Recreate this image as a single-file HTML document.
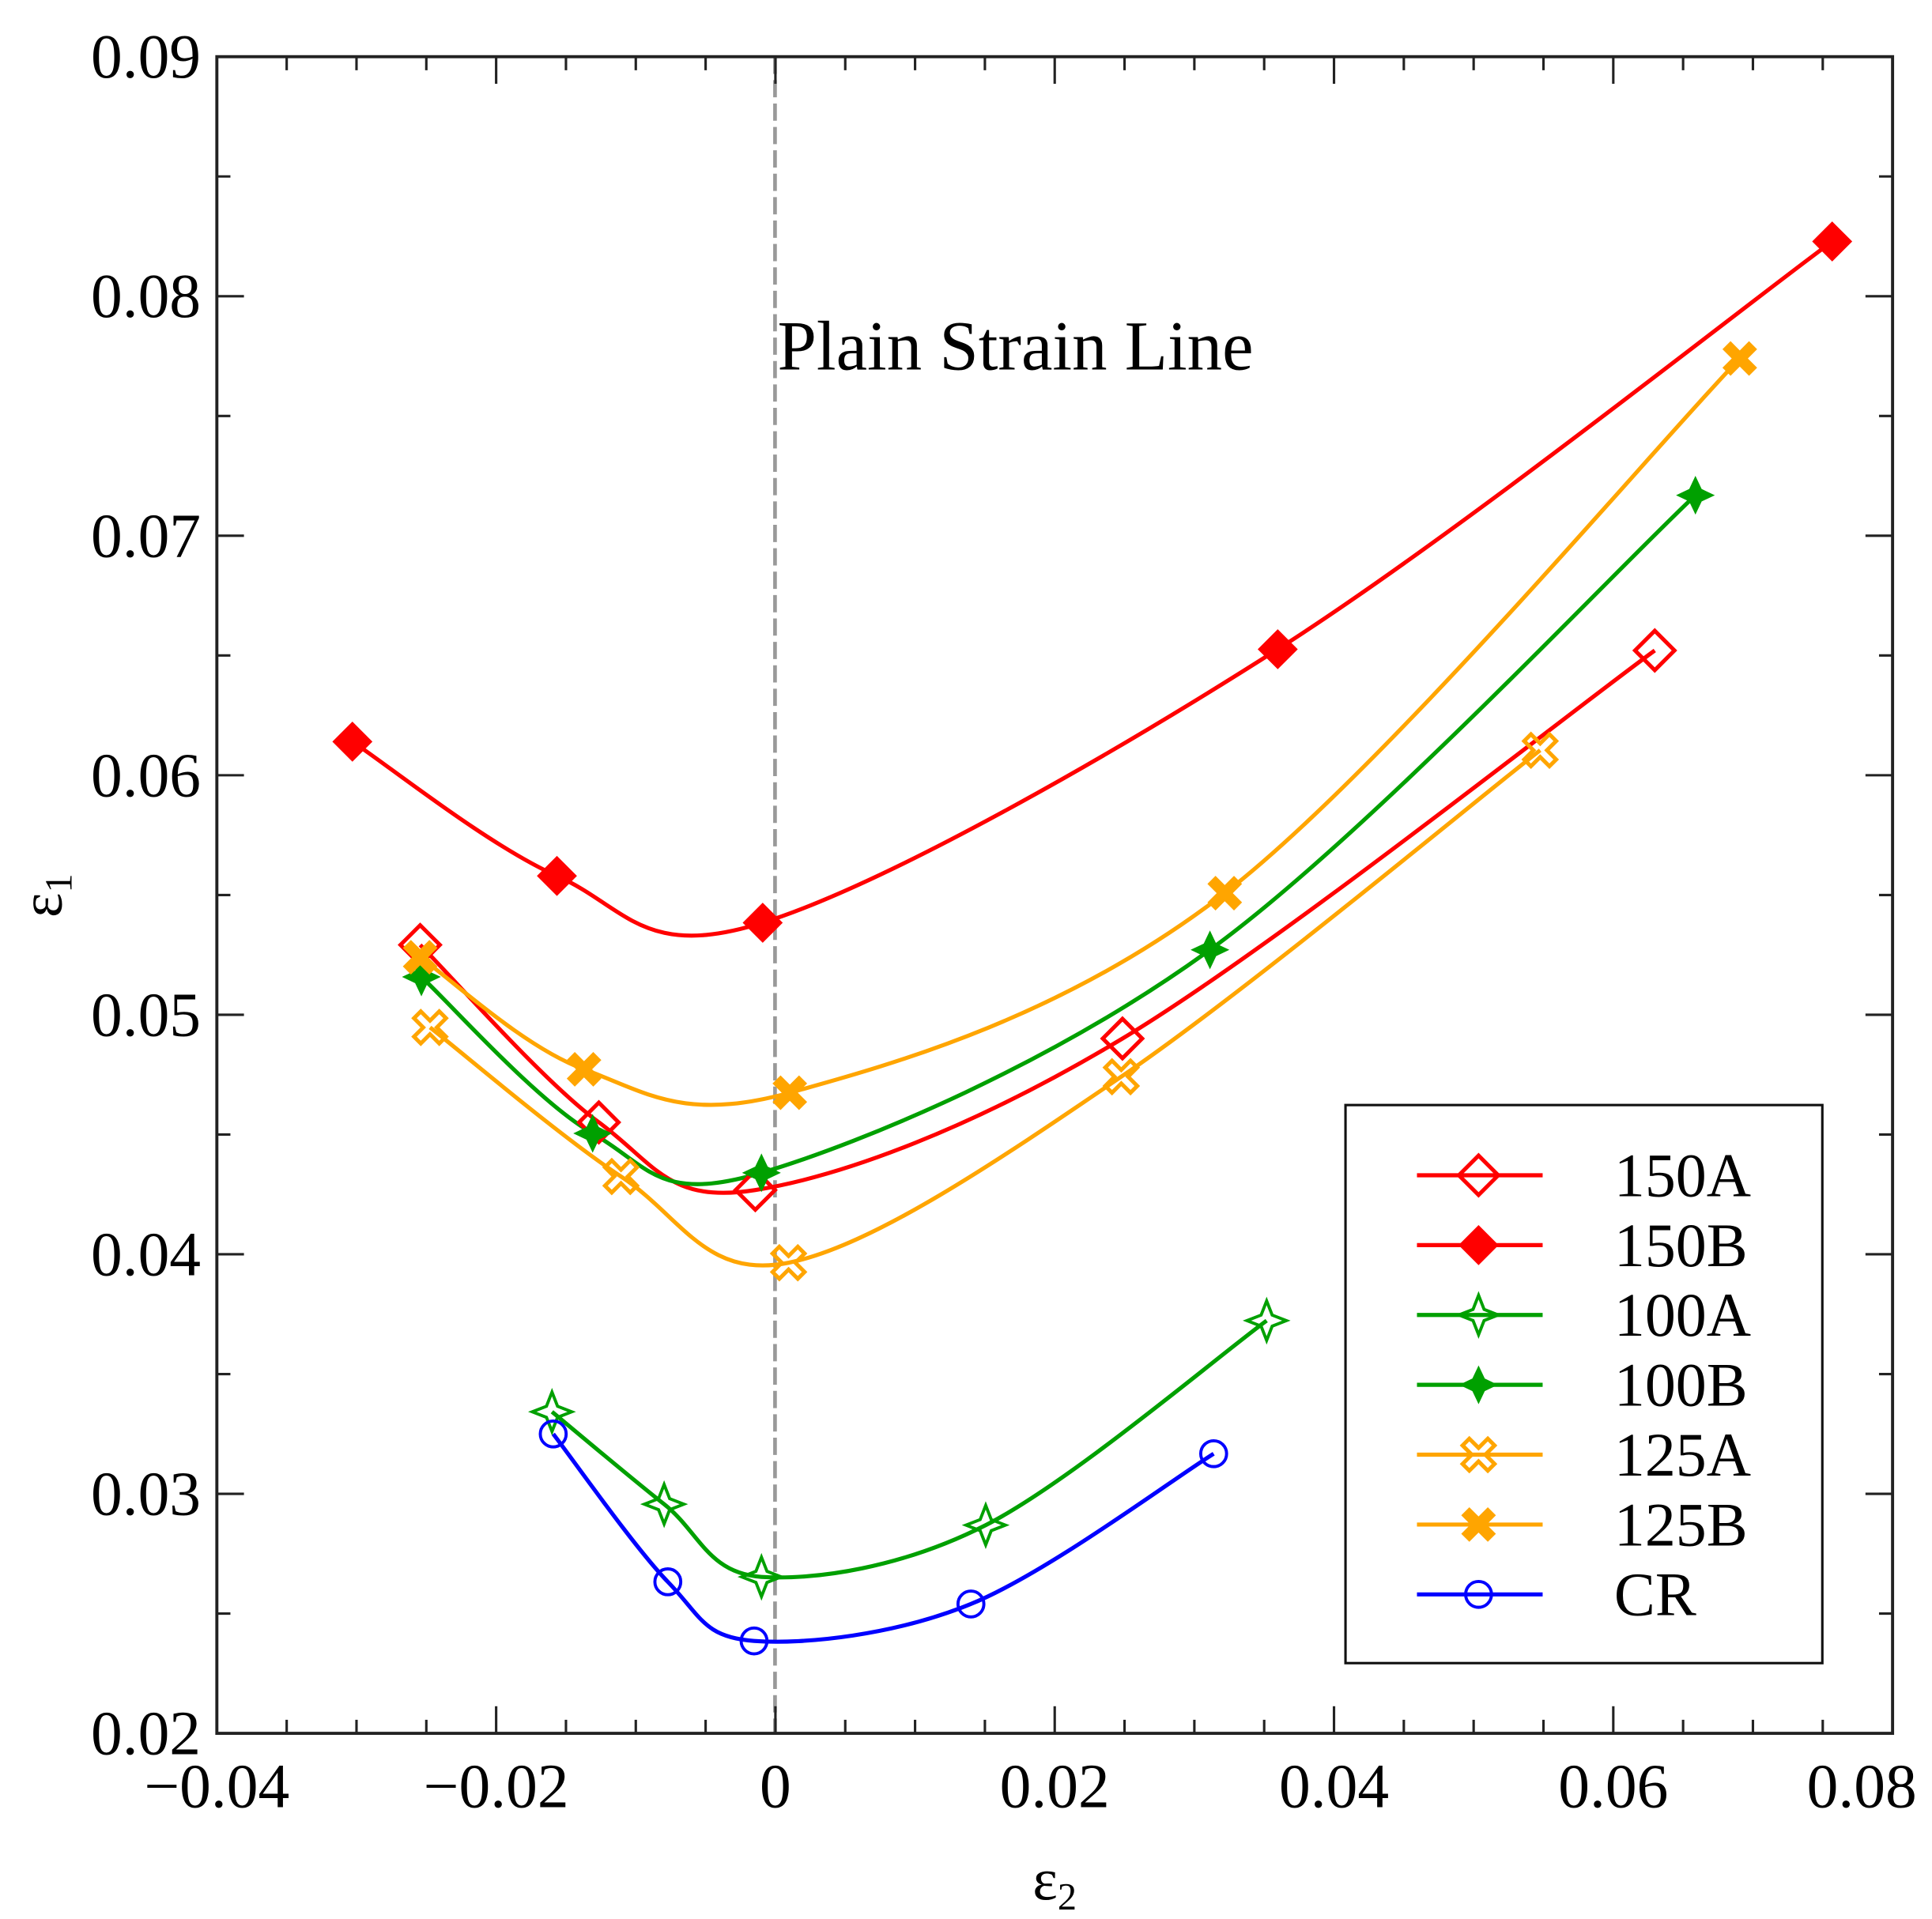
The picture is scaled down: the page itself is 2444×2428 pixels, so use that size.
<!DOCTYPE html>
<html><head><meta charset="utf-8"><style>
html,body{margin:0;padding:0;background:#fff;}
svg{display:block;}
text{font-family:"Liberation Serif",serif;fill:#000;}
</style></head><body>
<svg id="s" width="2444" height="2428" viewBox="0 0 1568 1557.7" xmlns="http://www.w3.org/2000/svg">
<rect x="0" y="0" width="1568" height="1558" fill="#fff"/>
<line x1="629" y1="46" x2="629" y2="1407" stroke="#999" stroke-width="3" stroke-dasharray="14,5"/>
<g id="ticks" stroke="#222" stroke-width="2"></g>
<rect x="176" y="46" width="1360" height="1361" fill="none" stroke="#222" stroke-width="2.5"/>
<g id="lbl" font-size="51"></g>
<text x="631" y="300" font-size="57">Plain Strain Line</text>
<text x="856" y="1542" font-size="48" text-anchor="middle">ε<tspan font-size="31" dy="8">2</tspan></text>
<text transform="translate(50,727) rotate(-90)" font-size="48" text-anchor="middle">ε<tspan font-size="31" dy="8">1</tspan></text>
<g id="series"></g>
<rect x="1092" y="897" width="387" height="453" fill="#fff" stroke="#111" stroke-width="2"/>
<g id="legend"></g>
</svg>
<script>
var NS="http://www.w3.org/2000/svg";
function el(p,t,a){var e=document.createElementNS(NS,t);for(var k in a)e.setAttribute(k,a[k]);p.appendChild(e);return e;}
var tk=document.getElementById('ticks'),lb=document.getElementById('lbl');
for(var i=0;i<=24;i++){var x=176+i*(1360/24);var L=(i%4==0)?22:11;
el(tk,'line',{x1:x,y1:1407,x2:x,y2:1407-L});el(tk,'line',{x1:x,y1:46,x2:x,y2:46+L});}
for(var i=0;i<=14;i++){var y=1407-i*(1361/14);var L=(i%2==0)?22:11;
el(tk,'line',{x1:176,y1:y,x2:176+L,y2:y});el(tk,'line',{x1:1536,y1:y,x2:1536-L,y2:y});}
var xl=['\u22120.04','\u22120.02','0','0.02','0.04','0.06','0.08'];
for(var i=0;i<7;i++){var cx=176+i*226.67;if(i==6)cx=1511;var t=el(lb,'text',{x:cx,y:1467,'text-anchor':'middle'});t.textContent=xl[i];}
var yl=['0.02','0.03','0.04','0.05','0.06','0.07','0.08','0.09'];
for(var i=0;i<8;i++){var t=el(lb,'text',{x:163,y:1407-i*194.43+17,'text-anchor':'end'});t.textContent=yl[i];}
function cr(p){var d='M'+p[0][0]+','+p[0][1];for(var i=0;i<p.length-1;i++){var p0=p[i>0?i-1:i],p1=p[i],p2=p[i+1],p3=p[i+2<p.length?i+2:i+1];
d+=' C'+(p1[0]+(p2[0]-p0[0])/6)+','+(p1[1]+(p2[1]-p0[1])/6)+' '+(p2[0]-(p3[0]-p1[0])/6)+','+(p2[1]-(p3[1]-p1[1])/6)+' '+p2[0]+','+p2[1];}return d;}
function marker(g,type,x,y,c){
 if(type=='dO'||type=='dF'){var r=type=='dF'?14:16;el(g,'path',{d:'M'+x+','+(y-r)+' L'+(x+r)+','+y+' L'+x+','+(y+r)+' L'+(x-r)+','+y+'Z',fill:c,'fill-opacity':type=='dF'?1:0,stroke:c,'stroke-width':3.2});}
 else if(type=='sO'||type=='sF'){var r=type=='sF'?14:16,q=4.5;el(g,'path',{d:'M'+x+','+(y-r)+' L'+(x+q)+','+(y-q)+' L'+(x+r)+','+y+' L'+(x+q)+','+(y+q)+' L'+x+','+(y+r)+' L'+(x-q)+','+(y+q)+' L'+(x-r)+','+y+' L'+(x-q)+','+(y-q)+'Z',fill:c,'fill-opacity':type=='sF'?1:0,stroke:c,'stroke-width':type=='sF'?1.5:2.5});}
 else if(type=='xO'||type=='xF'){var a=13,b=5.5;var pts=[[0,-b],[a-b,-a],[a,-a+b],[b,0],[a,a-b],[a-b,a],[0,b],[-a+b,a],[-a,a-b],[-b,0],[-a,-a+b],[-a+b,-a]];
  var d='';pts.forEach(function(p,i){d+=(i?'L':'M')+(x+p[0])+','+(y+p[1]);});d+='Z';
  el(g,'path',{d:d,fill:c,'fill-opacity':type=='xF'?1:0,stroke:c,'stroke-width':type=='xF'?1.5:3.2});}
 else if(type=='o'){el(g,'circle',{cx:x,cy:y,r:10.5,fill:'none',stroke:c,'stroke-width':2.5});}
}
var R='#f00',G='#00a000',O='#ffa500',B='#0000ff';
var S=[
 {n:'150A',c:R,m:'dO',p:[[341,767],[486,911],[613,966],[911,843],[1343,528]]},
 {n:'150B',c:R,m:'dF',p:[[286,602],[452,711],[619,749],[1037,527],[1487,196]]},
 {n:'100A',c:G,m:'sO',p:[[448,1146],[539,1221],[618,1280],[800,1238],[1028,1072]]},
 {n:'100B',c:G,m:'sF',p:[[342,793],[481,920],[618,952],[982,771],[1376,402]]},
 {n:'125A',c:O,m:'xO',p:[[349,834],[504,955],[640,1025],[910,874],[1250,609]]},
 {n:'125B',c:O,m:'xF',p:[[341,777],[474,868],[641,887],[994,725],[1412,291]]},
 {n:'CR',c:B,m:'o',p:[[449,1164],[542,1284],[612,1332],[788,1302],[985,1180]]}
];
var sg=document.getElementById('series');
S.forEach(function(s){el(sg,'path',{d:cr(s.p),fill:'none',stroke:s.c,'stroke-width':3.3});});
S.forEach(function(s){s.p.forEach(function(p){marker(sg,s.m,p[0],p[1],s.c);});});
var lg=document.getElementById('legend');
S.forEach(function(s,i){var y=954+i*56.7;el(lg,'line',{x1:1150,y1:y,x2:1252,y2:y,stroke:s.c,'stroke-width':3.3});marker(lg,s.m,1200,y,s.c);
 var t=el(lg,'text',{x:1310,y:y+17,'font-size':50});t.textContent=s.n;});
</script>
</body></html>
